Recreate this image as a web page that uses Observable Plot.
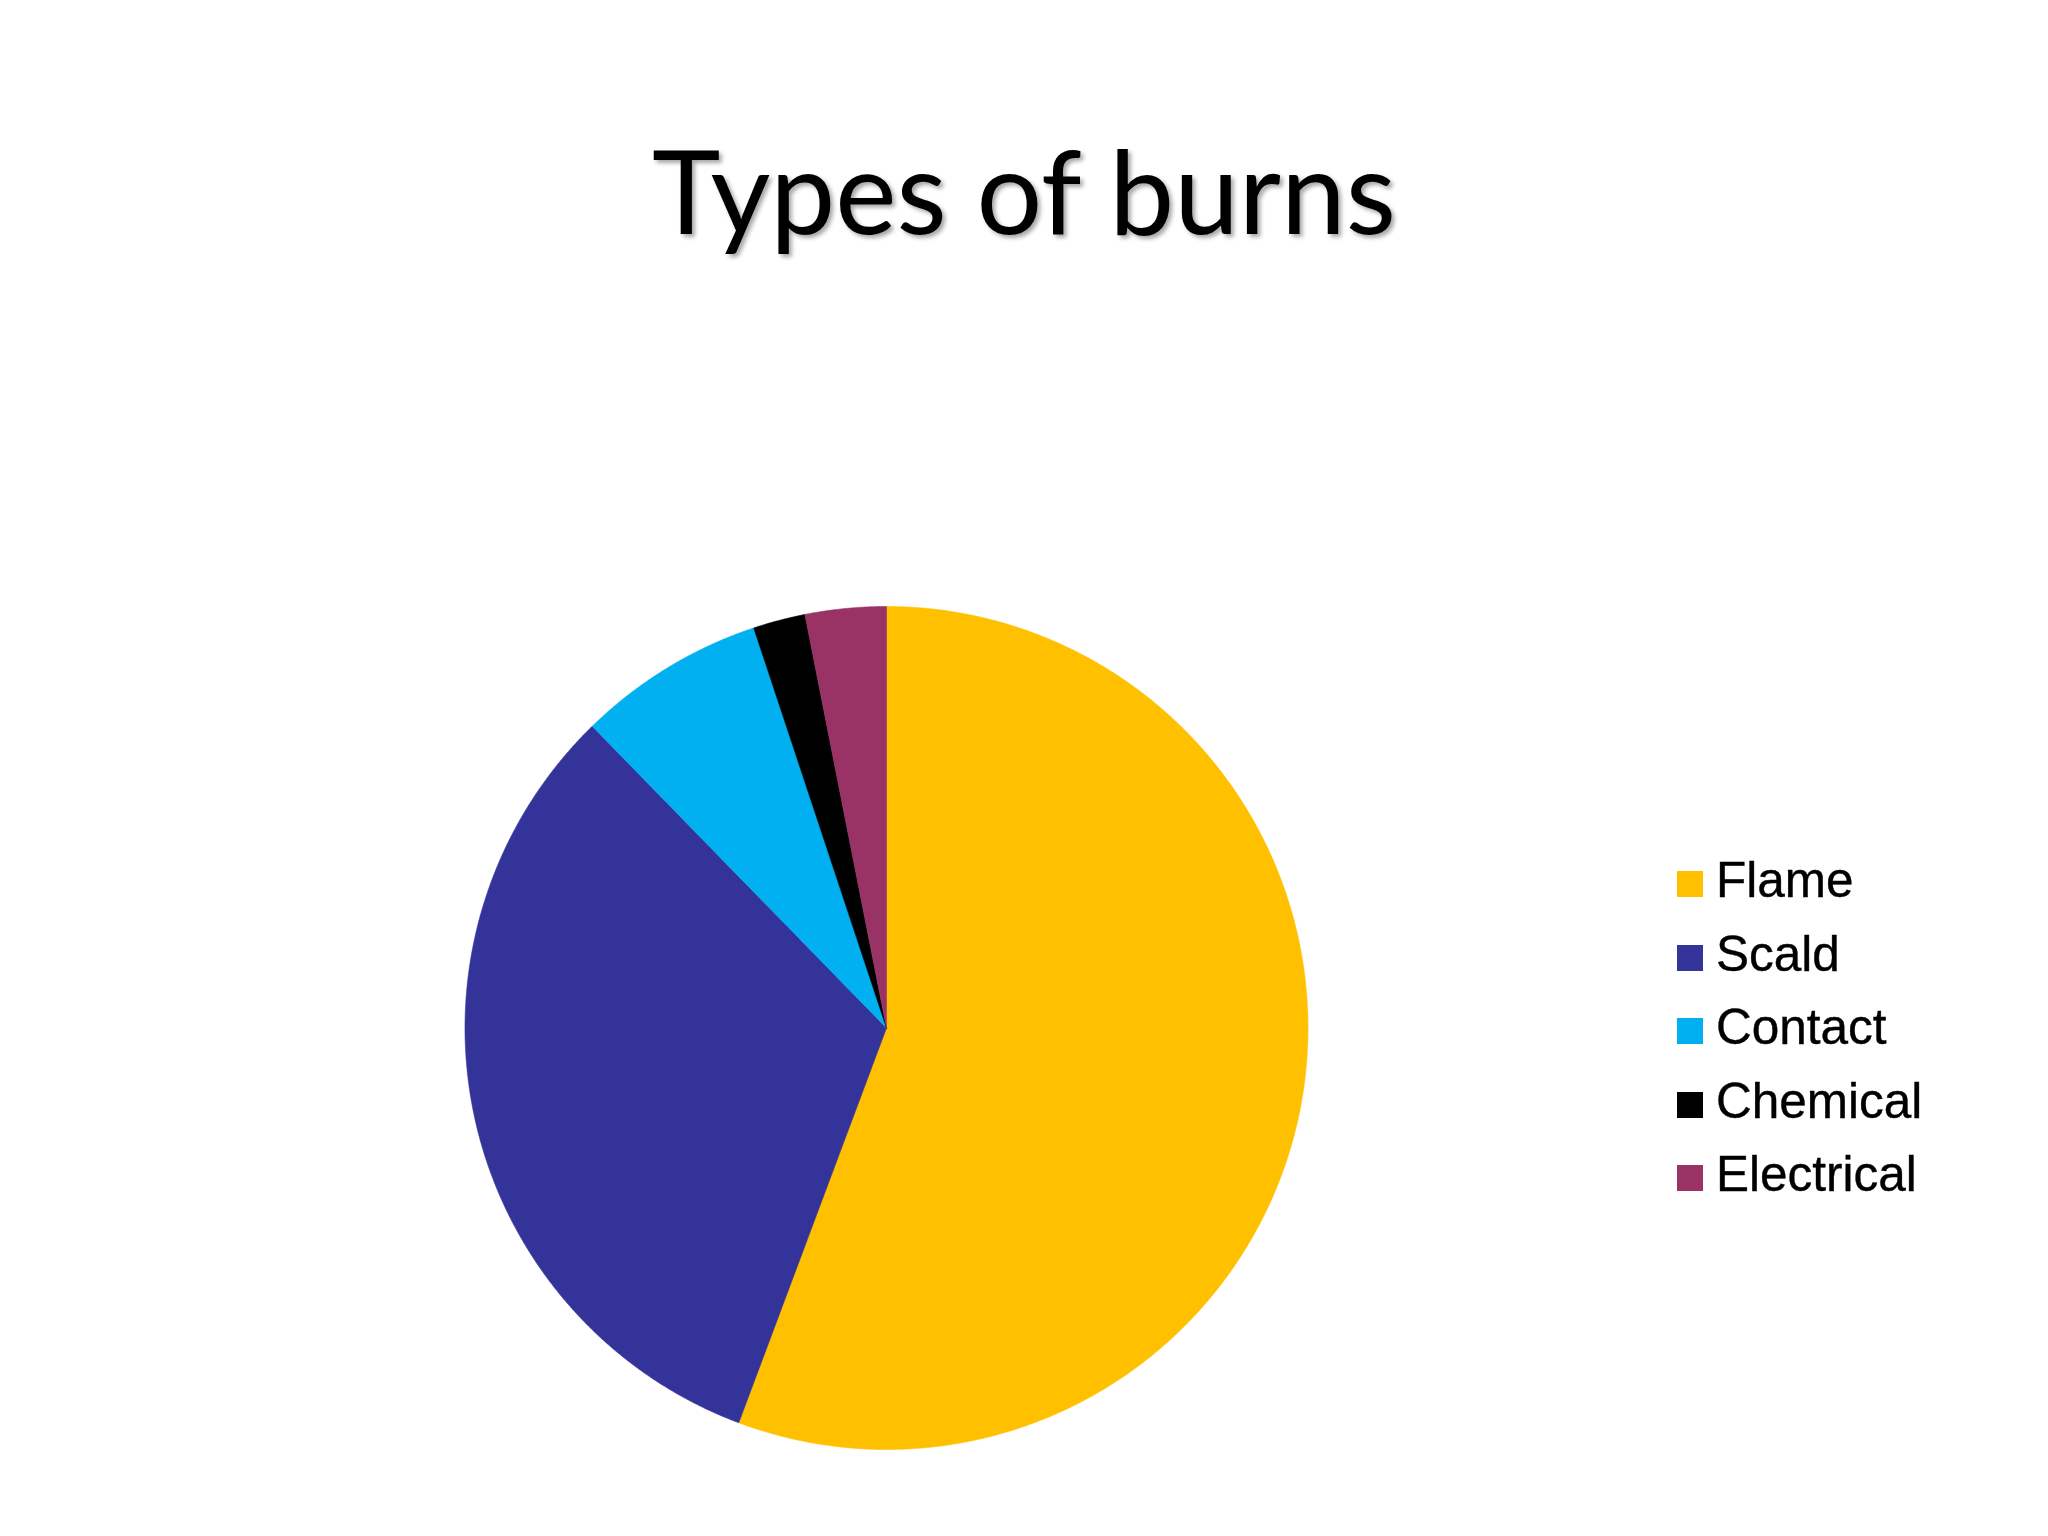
<!DOCTYPE html>
<html><head><meta charset="utf-8">
<script src="https://cdn.jsdelivr.net/npm/d3@7"></script>
<script src="https://cdn.jsdelivr.net/npm/@observablehq/plot@0.6"></script>
<style>
html,body{margin:0;padding:0;background:#fff;}
body{width:2048px;height:1536px;position:relative;overflow:hidden;}
#title{height:300px;box-sizing:border-box;padding-top:132px;text-align:center;font-family:Lato,"Open Sans",sans-serif;font-size:116px;line-height:116px;color:#000;text-shadow:3px 3px 4px rgba(0,0,0,0.35);}
#chart svg{display:block;}
#legend{position:absolute;left:1677px;top:843px;}
.leg-swatches{font-family:"Liberation Sans",Arial,sans-serif;font-size:49.5px;color:#000;margin:0;width:360px;}
.leg-swatches .leg-swatch{align-items:baseline;line-height:73.5px;padding-bottom:0;}
.leg-swatches .leg-swatch > svg{margin-right:13px;}
.leg-swatches .leg-swatch-label{overflow:visible;-webkit-text-stroke:0.4px #000;}
</style></head><body>
<div id="title">Types of burns</div>
<div id="chart"></div>
<div id="legend"></div>
<script>
const categories = ["Flame", "Scald", "Contact", "Chemical", "Electrical"];
const values = [55.7, 32.0, 7.2, 2.0, 3.1];
const colors = ["#FFC000", "#333399", "#00B0F0", "#000000", "#993366"];

const W = 2048, H = 1236, cx = 886, cy = 727.5, R = 421.5;

const arcs = d3.pie().sort(null).startAngle(0).endAngle(2 * Math.PI)(values);
const points = [];
arcs.forEach((a, i) => {
  const name = categories[i];
  points.push({name, x: 0, y: 0});
  const n = Math.max(2, Math.ceil((a.endAngle - a.startAngle) / (Math.PI / 720)));
  for (let k = 0; k <= n; k++) {
    const t = a.startAngle + (a.endAngle - a.startAngle) * k / n;
    points.push({name, x: Math.sin(t), y: Math.cos(t)});
  }
  points.push({name, x: 0, y: 0});
});

const chart = Plot.plot({
  width: W, height: H, margin: 0,
  x: {domain: [-cx / R, (W - cx) / R], axis: null},
  y: {domain: [-(H - cy) / R, cy / R], axis: null},
  color: {domain: categories, range: colors},
  marks: [
    Plot.line(points, {x: "x", y: "y", z: "name", fill: "name", stroke: "name", strokeWidth: 0.6, curve: "linear"})
  ]
});
document.getElementById("chart").append(chart);

const legend = Plot.legend({
  color: {domain: categories, range: colors},
  legend: "swatches", columns: 1, swatchSize: 26, className: "leg"
});
document.getElementById("legend").append(legend);
</script>
</body></html>
